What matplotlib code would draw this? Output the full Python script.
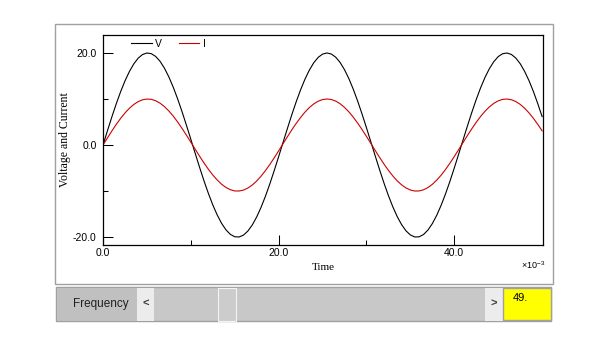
import matplotlib
matplotlib.use("Agg")
import matplotlib.pyplot as plt
from matplotlib.patches import Rectangle

# Data (time in ms, 0.5 ms steps, 49 Hz)
time_ms = [i * 0.5 for i in range(101)]
voltage = [0.00, 3.07, 6.06, 8.91, 11.55, 13.92, 15.95, 17.61, 18.86, 19.66,
           19.99, 19.85, 19.24, 18.18, 16.68, 14.79, 12.55, 10.02, 7.25, 4.30,
           1.26, -1.82, -4.85, -7.77, -10.50, -12.99, -15.16, -16.99, -18.41, -19.39,
           -19.91, -19.96, -19.55, -18.66, -17.34, -15.61, -13.51, -11.09, -8.40, -5.52,
           -2.51, 0.57, 3.62, 6.60, 9.41, 12.01, 14.32, 16.29, 17.88, 19.04,
           19.75, 20.00, 19.77, 19.08, 17.93, 16.36, 14.41, 12.11, 9.53, 6.72,
           3.75, 0.69, -2.38, -5.40, -8.29, -10.98, -13.41, -15.53, -17.28, -18.62,
           -19.52, -19.96, -19.92, -19.42, -18.45, -17.05, -15.25, -13.08, -10.61, -7.88,
           -4.97, -1.94, 1.13, 4.18, 7.13, 9.91, 12.46, 14.71, 16.61, 18.12,
           19.21, 19.83, 19.99, 19.68, 18.90, 17.68, 16.03, 14.01, 11.66, 9.02,
           6.18]
current = [0.00, 1.53, 3.03, 4.46, 5.78, 6.96, 7.98, 8.81, 9.43, 9.83,
           9.99, 9.93, 9.62, 9.09, 8.34, 7.40, 6.28, 5.01, 3.62, 2.15,
           0.63, -0.91, -2.43, -3.89, -5.25, -6.50, -7.58, -8.50, -9.20, -9.70,
           -9.96, -9.98, -9.77, -9.33, -8.67, -7.80, -6.75, -5.54, -4.20, -2.76,
           -1.25, 0.28, 1.81, 3.30, 4.71, 6.00, 7.16, 8.15, 8.94, 9.52,
           9.88, 10.00, 9.89, 9.54, 8.97, 8.18, 7.20, 6.05, 4.76, 3.36,
           1.87, 0.35, -1.19, -2.70, -4.14, -5.49, -6.71, -7.77, -8.64, -9.31,
           -9.76, -9.98, -9.96, -9.71, -9.23, -8.52, -7.62, -6.54, -5.31, -3.94,
           -2.49, -0.97, 0.56, 2.09, 3.56, 4.95, 6.23, 7.35, 8.30, 9.06,
           9.60, 9.92, 10.00, 9.84, 9.45, 8.84, 8.02, 7.00, 5.83, 4.51,
           3.09]
xticks = [0, 20, 40]
xtick_labels = ["0.0", "20.0", "40.0"]
yticks = [-20, 0, 20]
ytick_labels = ["-20.0", "0.0", "20.0"]
freq_text = "49."

plt.rcParams["font.family"] = ["Liberation Sans", "DejaVu Sans"]
plt.rcParams["mathtext.default"] = "regular"

fig = plt.figure(figsize=(6.02, 3.54), dpi=100)

# background panel + slider, drawn in pixel coords
bg = fig.add_axes([0, 0, 1, 1])
bg.set_xlim(0, 602)
bg.set_ylim(354, 0)
bg.axis("off")
edge = "#a0a0a0"
bg.add_patch(Rectangle((55, 24), 498, 260, fc="white", ec=edge, lw=1))
bg.add_patch(Rectangle((56, 287), 495, 34, fc="#c8c8c8", ec=edge, lw=1))
bg.add_patch(Rectangle((56.5, 287.5), 80.5, 33, fc="#c0c0c0", ec="none"))
bg.add_patch(Rectangle((137, 288), 17, 32.5, fc="#ececec", ec="none"))
bg.add_patch(Rectangle((218, 288), 18, 32.5, fc="#cccccc", ec="#f4f4f4", lw=0.8))
bg.add_patch(Rectangle((485, 288), 18, 32.5, fc="#ececec", ec="none"))
bg.add_patch(Rectangle((503, 288), 48, 32, fc="#ffff00", ec=edge, lw=1))
bg.text(73, 304, "Frequency", fontsize=8.5, va="center", ha="left", color="#202020")
bg.text(145.5, 304, "<", fontsize=8, va="center", ha="center", color="#404040", fontweight="bold")
bg.text(493.5, 304, ">", fontsize=8, va="center", ha="center", color="#404040", fontweight="bold")
bg.text(513, 298, freq_text, fontsize=8, va="center", ha="left", color="black")
bg.text(521, 265, r"$\times$10$^{-3}$", fontsize=6.5, va="center", ha="left")

# plot
ax = fig.add_axes([103 / 602, 1 - 245 / 354, 440 / 602, 210 / 354])
ax.plot(time_ms, voltage, color="black", lw=0.8, label="V")
ax.plot(time_ms, current, color="#cc0000", lw=0.8, label="I")
ax.set_xlim(0, 50.1)
ax.set_ylim(-21.7, 23.9)
ax.set_xticks(xticks)
ax.set_xticklabels(xtick_labels)
ax.set_yticks(yticks)
ax.set_yticklabels(ytick_labels)
ax.set_xticks([10, 30], minor=True)
ax.set_yticks([-10, 10], minor=True)
ax.tick_params(which="major", direction="in", length=7, width=0.75, labelsize=7.5)
ax.tick_params(axis="x", which="major", pad=2)
ax.tick_params(axis="y", which="major", pad=4.5)
ax.tick_params(which="minor", direction="in", length=3.6, width=0.75)
for s in ax.spines.values():
    s.set_linewidth(0.9)
ax.set_xlabel("Time", fontfamily="Liberation Serif", fontsize=8, labelpad=4)
ax.set_ylabel("Voltage and Current", fontfamily="Liberation Serif", fontsize=8.5, labelpad=1.5)
ax.legend(loc="center left", bbox_to_anchor=(0.064, 0.957), ncol=2, frameon=False,
          handlelength=2.0, handletextpad=0.3, columnspacing=1.6,
          borderpad=0, borderaxespad=0, fontsize=7.5)

fig.savefig("out.png", dpi=100)
